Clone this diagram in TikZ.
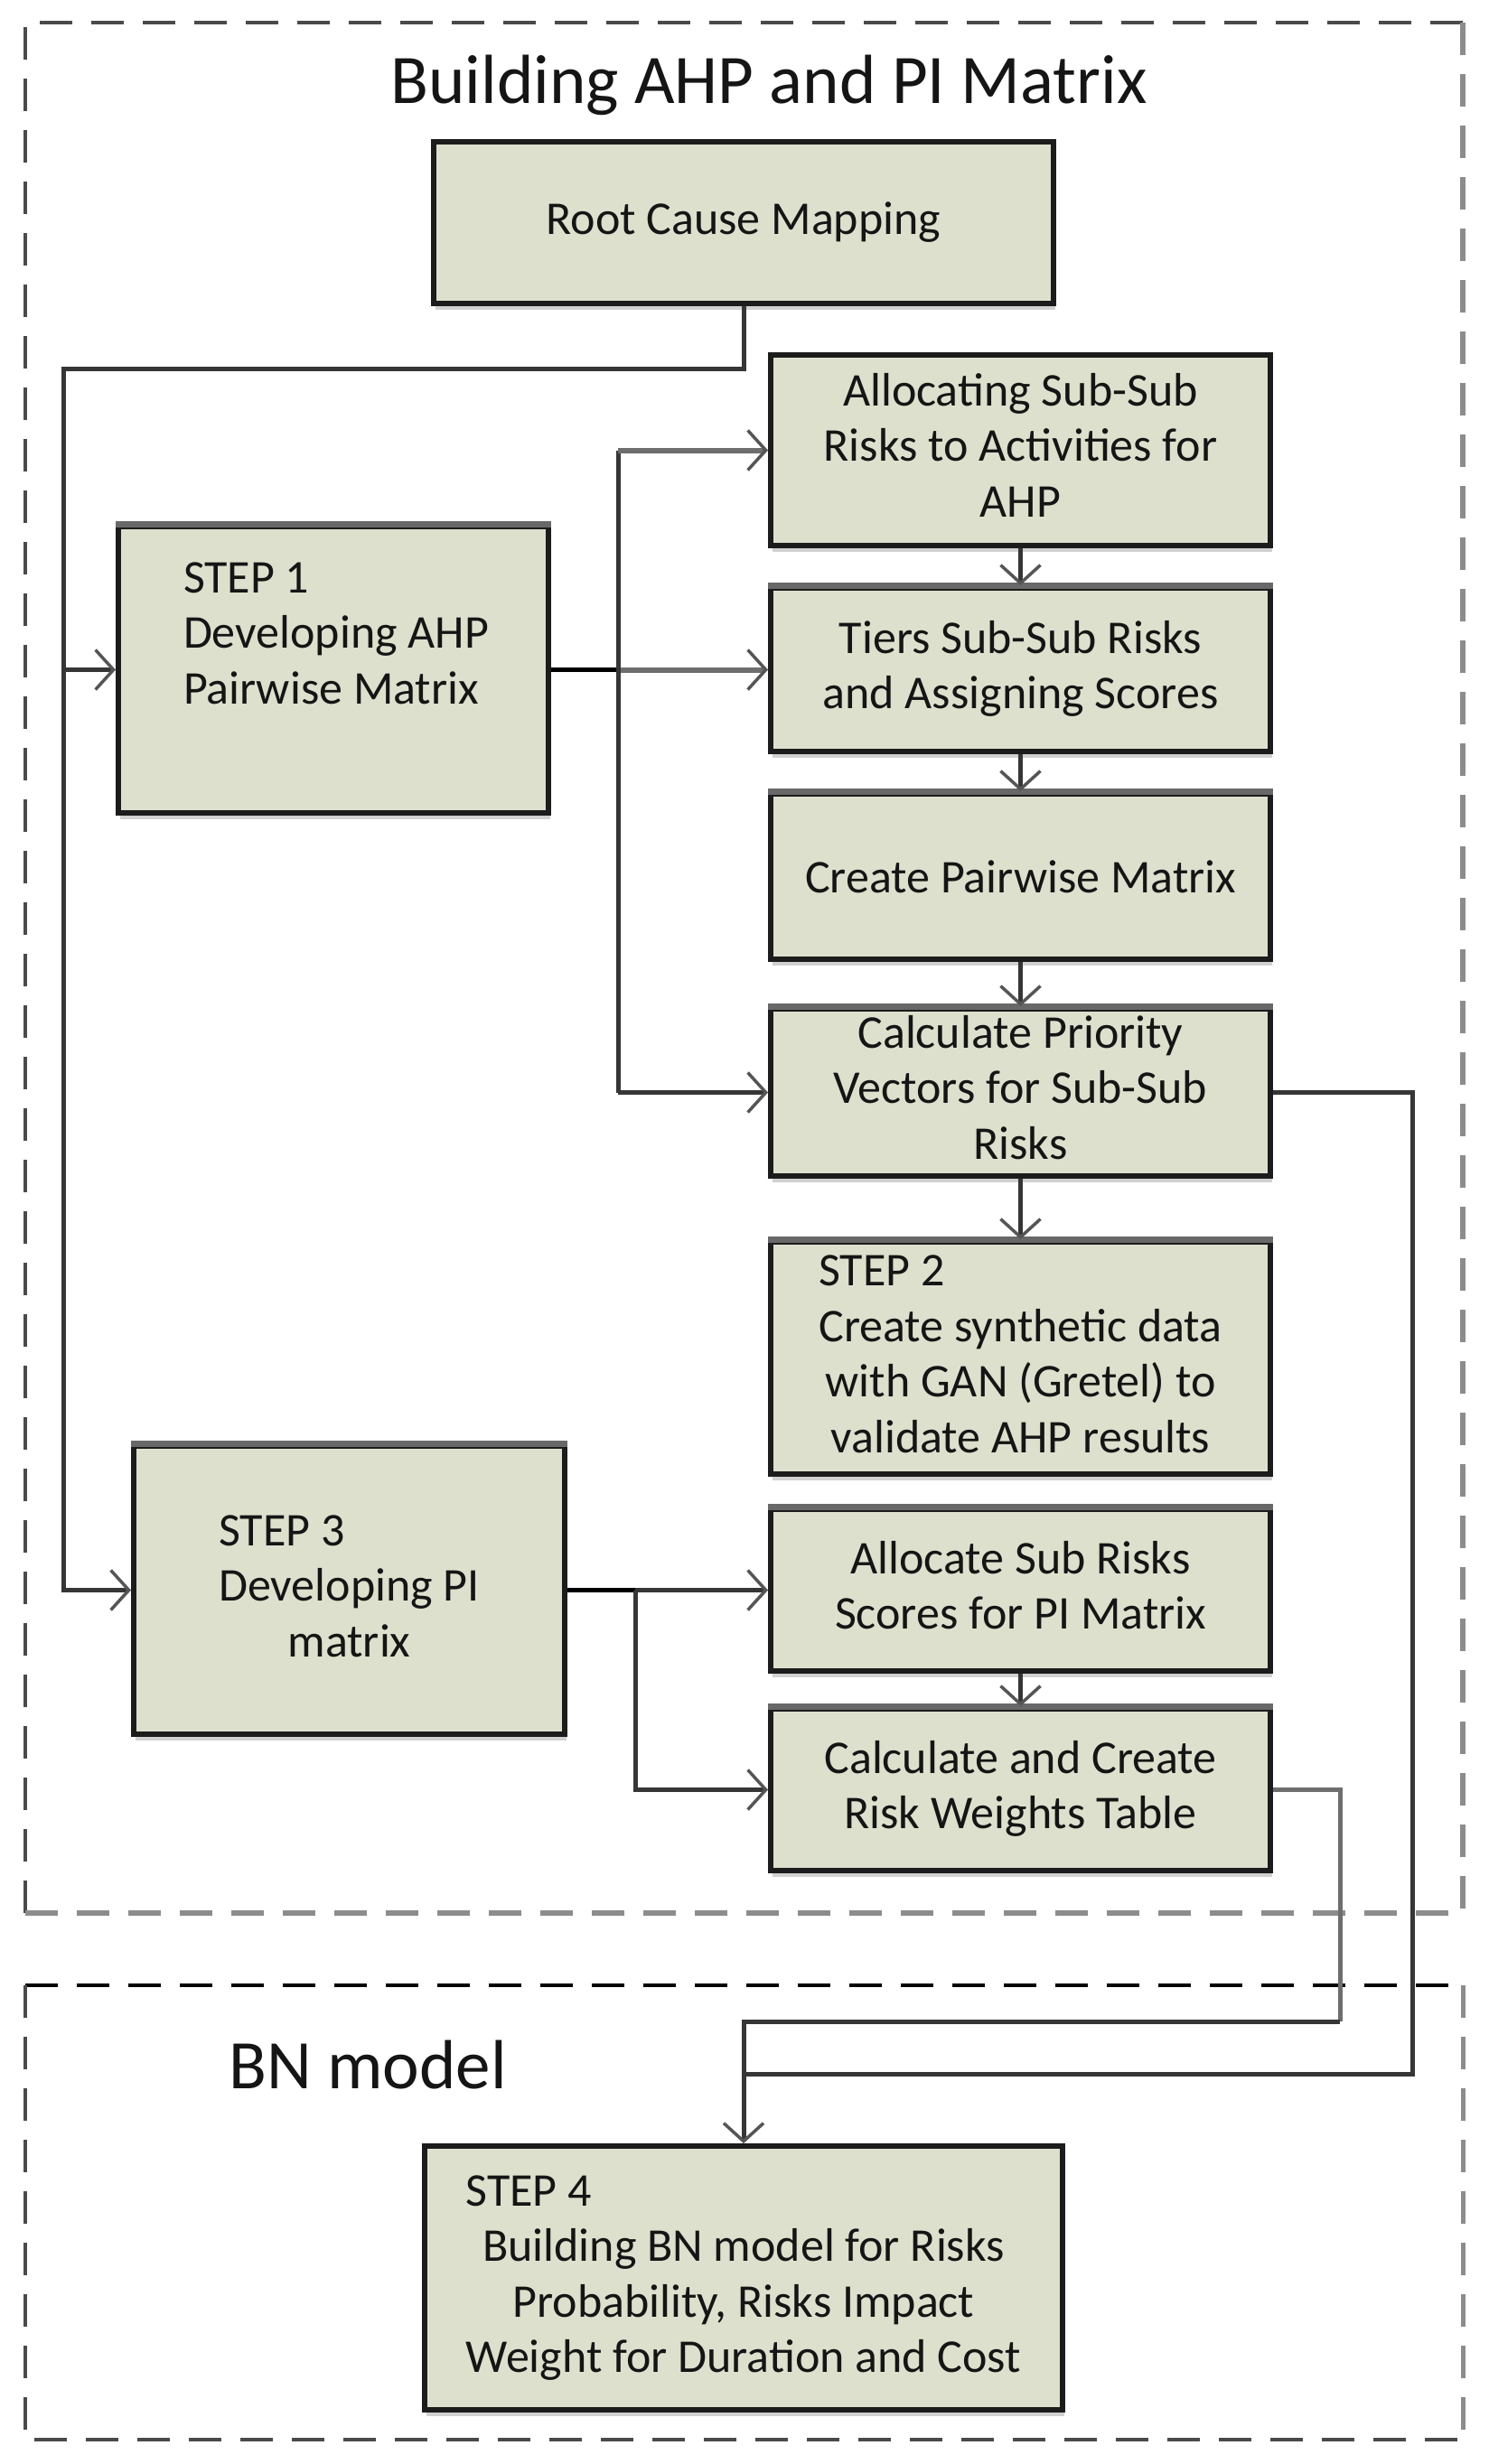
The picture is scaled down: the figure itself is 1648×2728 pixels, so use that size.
\documentclass[tikz,border=0pt]{standalone}
\usepackage{fontspec}
\setmainfont{Carlito}
\usetikzlibrary{arrows.meta,shadows}

\definecolor{boxfill}{HTML}{DDE0CD}
\definecolor{edge}{HTML}{1C1C1C}
\definecolor{topedge}{HTML}{686868}
\definecolor{wire}{HTML}{363636}
\definecolor{wirelight}{HTML}{6E6E6E}
\definecolor{tipgray}{HTML}{555555}
\definecolor{frame}{HTML}{4A4A4A}
\definecolor{framelight}{HTML}{8C8C8C}
\definecolor{ink}{HTML}{151515}

% centred lines of a box
\newcommand{\boxlines}[1]{\begin{tabular}{@{}c@{}}#1\end{tabular}}
% a "STEP n" heading flush left over centred lines
\newcommand{\steplines}[2]{\begin{tabular}{@{}c@{}}\multicolumn{1}{@{}l@{}}{#1}\\#2\end{tabular}}

\tikzset{
  boxfont/.style={font=\fontsize{52pt}{61.5pt}\selectfont, text=ink},
  stepbox/.style={boxfont, draw=edge, line width=6pt, fill=boxfill, inner sep=0pt,
    drop shadow={shadow xshift=2pt, shadow yshift=-7pt, fill=black, opacity=0.18}},
  sized/.style 2 args={minimum width=#1, minimum height=#2},
  topline/.style={draw=topedge, line width=7pt},
  wirestyle/.style={draw=wire, line width=5pt},
  feed/.style={draw=wirelight, line width=6pt},
  >={Straight Barb[length=20pt,width=44pt,line width=3.5pt,color=tipgray]},
  headline/.style={font=\fontsize{77pt}{90pt}\selectfont, text=ink, inner sep=0pt},
  framedash/.style={dash pattern=on 36pt off 21pt, line width=4pt},
}

\begin{document}
\begin{tikzpicture}[x=1pt, y=-1pt]
\useasboundingbox[fill=white] (0,0) rectangle (1648,2728);

% ---- dashed frames ----
\coordinate (fAnw) at (28,25);
\coordinate (fAse) at (1619,2118);
\coordinate (fBnw) at (28,2198);
\coordinate (fBse) at (1619,2701);
\draw[framedash, draw=frame] (fAnw |- fAse) -- (fAnw) -- (fAse |- fAnw);
\draw[framedash, draw=framelight, line width=6pt] (fAse |- fAnw) -- (fAse) -- (fAnw |- fAse);
\draw[framedash, draw=black] (fBnw) -- (fBse |- fBnw);
\draw[framedash, draw=framelight, line width=5pt] (fBse |- fBnw) -- (fBse);
\draw[framedash, draw=frame] (fBnw) -- (fBnw |- fBse) -- (fBse);

% ---- headings ----
\node[headline, anchor=base] (title) at (851,114) {Building AHP and PI Matrix};
\node[headline, anchor=base west] (bnhead) at (253,2312) {BN model};

% ---- boxes ----
\node[stepbox, sized={686pt}{179pt}] (root) at (823,246.5) {Root Cause Mapping};
\node[stepbox, sized={553pt}{211pt}] (alloc) at (1129.5,498.5)
  {\boxlines{Allocating Sub-Sub\\Risks to Activities for\\AHP}};
\node[stepbox, sized={553pt}{181pt}] (tiers) at (1129.5,741.5)
  {\boxlines{Tiers Sub-Sub Risks\\and Assigning Scores}};
\node[stepbox, sized={553pt}{183pt}] (pairwise) at (1129.5,970.5) {Create Pairwise Matrix};
\node[stepbox, sized={553pt}{185pt}] (priority) at (1129.5,1209.5)
  {\boxlines{Calculate Priority\\Vectors for Sub-Sub\\Risks}};
\node[stepbox, sized={553pt}{257pt}] (step2) at (1129.5,1503.5)
  {\steplines{STEP 2}{Create synthetic data\\with GAN (Gretel) to\\validate AHP results}};
\node[stepbox, sized={553pt}{179pt}] (allocsub) at (1129.5,1760.5)
  {\boxlines{Allocate Sub Risks\\Scores for PI Matrix}};
\node[stepbox, sized={553pt}{179pt}] (weights) at (1129.5,1981.5)
  {\boxlines{Calculate and Create\\Risk Weights Table}};
\node[stepbox, sized={476pt}{317pt}] (step1) at (369,741.5) {};
\node[boxfont, inner sep=0pt, anchor=north] (step1text) at (372,613)
  {\begin{tabular}{@{}l@{}}STEP 1\\Developing AHP\\Pairwise Matrix\end{tabular}};
\node[stepbox, sized={477pt}{319pt}] (step3) at (386.5,1760.5)
  {\steplines{STEP 3}{Developing PI\\matrix}};
\node[stepbox, sized={706pt}{292pt}] (step4) at (823,2522)
  {\steplines{STEP 4}{Building BN model for Risks\\Probability, Risks Impact\\Weight for Duration and Cost}};

% grey upper edges
\foreach \n in {step1,tiers,pairwise,priority,step2,step3,allocsub,weights}
  \draw[topline] (\n.north west) -- (\n.north east);

% ---- connectors ----
\coordinate (trunk) at (70,408);
\coordinate (ahpbus) at (684,0);
\coordinate (pibus) at (703,0);
\coordinate (loopout) at (1563,2296);
\coordinate (loopin) at (1483,2238);

% root cause mapping feeds steps 1 and 3
\draw[wirestyle, ->] (root.south) |- (trunk) |- (step3.west);
\draw[wirestyle, ->] (trunk |- step1.west) -- (step1.west);

% step 1 fans out to the AHP chain
\draw[wirestyle, draw=black] (step1.east) -- (ahpbus |- step1.east);
\draw[feed, ->] (ahpbus |- step1.east) -- (tiers.west);
\draw[wirestyle] (ahpbus |- alloc.west) -- (ahpbus |- priority.west);
\draw[feed, ->] (ahpbus |- alloc.west) -- (alloc.west);
\draw[wirestyle, ->] (ahpbus |- priority.west) -- (priority.west);

% AHP chain
\draw[wirestyle, ->] (alloc.south) -- (tiers.north);
\draw[wirestyle, ->] (tiers.south) -- (pairwise.north);
\draw[wirestyle, ->] (pairwise.south) -- (priority.north);
\draw[wirestyle, ->] (priority.south) -- (step2.north);

% step 3 fans out to the PI chain
\draw[wirestyle, draw=black] (step3.east) -- (pibus |- step3.east);
\draw[wirestyle, ->] (pibus |- step3.east) -- (allocsub.west);
\draw[wirestyle, ->] (pibus |- step3.east) |- (weights.west);
\draw[wirestyle, ->] (allocsub.south) -- (weights.north);

% both results lead into the BN model
\draw[wirestyle] (priority.east) -| (loopout) -- (step4.north |- loopout);
\draw[wirestyle, draw=wirelight] (weights.east) -| (loopin);
\draw[wirestyle, ->] (loopin) -- (step4.north |- loopin) -- (step4.north);
\end{tikzpicture}
\end{document}
